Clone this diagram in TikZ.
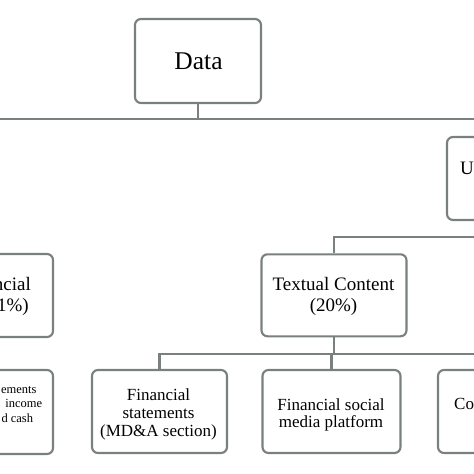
\documentclass[tikz,border=0pt]{standalone}
\usepackage{fontspec}
\setmainfont{Liberation Serif}
\definecolor{lin}{RGB}{122,128,128}
\begin{document}
\begin{tikzpicture}[x=1pt,y=-1pt,
 box/.style={draw=lin, line width=2.1pt, rounded corners=6pt, inner sep=0pt},
 conn/.style={draw=lin, line width=2.1pt},
 tbig/.style={inner sep=0pt, font=\fontsize{25.5}{30}\selectfont},
 tmid/.style={inner sep=0pt, font=\fontsize{19}{21}\selectfont},
 tsm/.style={inner sep=0pt, font=\fontsize{17}{18}\selectfont},
 txs/.style={inner sep=0pt, font=\fontsize{12.5}{14.5}\selectfont}]
\useasboundingbox (0,0) rectangle (474,474);
\clip (0,0) rectangle (474,474);
\fill[white] (0,0) rectangle (474,474);
% level 0
\node[box, minimum width=126pt, minimum height=84pt] (data) at (198,61) {};
\node[tbig, anchor=base] (datat) at (198.5,69.3) {Data};
% level 1
\node[box, minimum width=138pt, minimum height=83pt] (udata) at (516,178.5) {};
\node[tmid, anchor=base west] (ut) at (460,174) {U};
% level 2
\node[box, minimum width=145pt, minimum height=83pt] (finl) at (-19.5,295.5) {};
\node[tmid, anchor=base east] (finl1) at (31,290) {ncial};
\node[tmid, anchor=base east] (finl2) at (29,311) {1\%)};
\node[box, minimum width=145pt, minimum height=82pt] (tc) at (334,295.3) {};
\node[tmid, anchor=base] (tc1) at (333.5,290) {Textual Content};
\node[tmid, anchor=base] (tc2) at (333.5,311) {(20\%)};
% level 3
\node[box, minimum width=140pt, minimum height=84pt] (stl) at (-17,412) {};
\node[txs, anchor=base east] (stl1) at (36.7,393.3) {ements};
\node[txs, anchor=base east] (stl2) at (42.3,407.7) {income};
\node[txs, anchor=base east] (stl3) at (33.3,422.3) {d cash};
\node[box, minimum width=135pt, minimum height=83pt] (fs) at (159.5,411.5) {};
\node[tsm, anchor=base] (fs1) at (158.5,400) {Financial};
\node[tsm, anchor=base] (fs2) at (158.5,418) {statements};
\node[tsm, anchor=base] (fs3) at (158.5,436) {(MD\&A section)};
\node[box, minimum width=138pt, minimum height=83pt] (fsm) at (331.5,411.5) {};
\node[tsm, anchor=base] (fsm1) at (331,410) {Financial social};
\node[tsm, anchor=base] (fsm2) at (331,427.7) {media platform};
\node[box, minimum width=137pt, minimum height=83pt] (co) at (506.5,411.5) {};
\node[tsm, anchor=base west] (cot) at (454,409) {Co};
% connectors
\coordinate (b1w) at (-10,119);
\coordinate (b1e) at (484,119);
\coordinate (b2e) at (484,237);
\coordinate (b3e) at (484,354);
\draw[conn] (b1w) -- (b1e);
\draw[conn] (data.south) -- (data.south |- b1w);
\draw[conn] (udata.north) -- (udata.north |- b1w);
\draw[conn] (udata.south) -- (udata.south |- b2e);
\draw[conn] (tc.north) -- (tc.north |- b2e) -- (b2e);
\draw[conn] (tc.south) -- (tc.south |- b3e);
\draw[conn] (fs.north) -- (fs.north |- b3e) -- (b3e);
\draw[conn] (fsm.north) -- (fsm.north |- b3e);
\draw[conn] (co.north) -- (co.north |- b3e);
\end{tikzpicture}
\end{document}
